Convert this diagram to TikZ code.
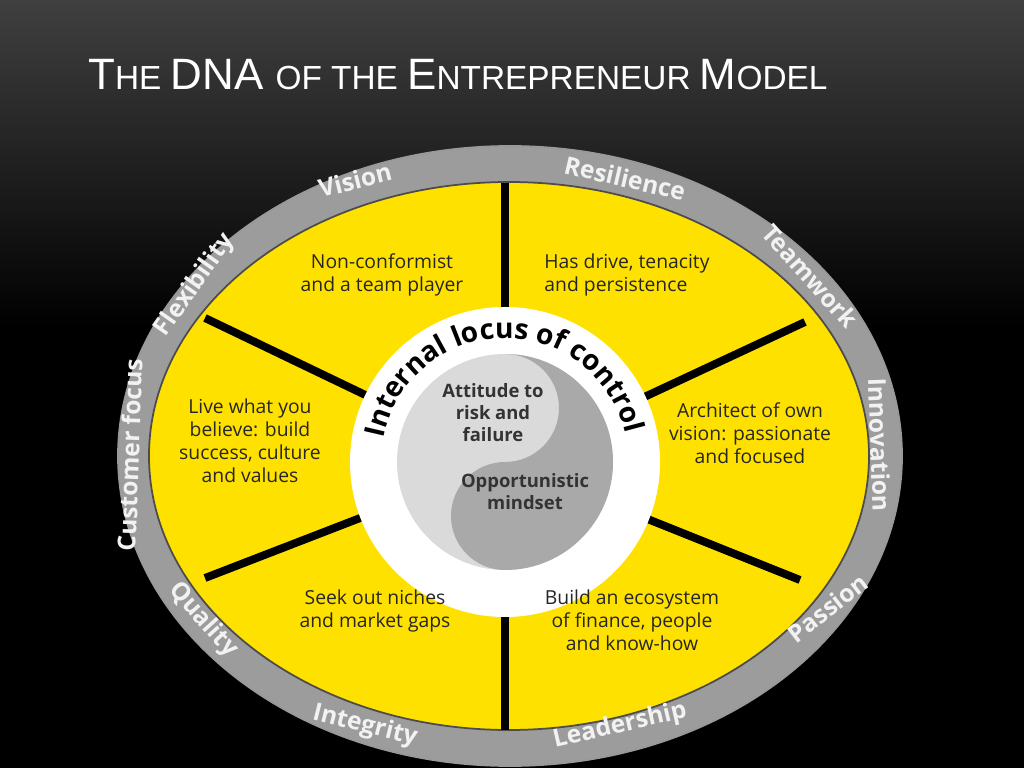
\documentclass[tikz,border=0pt]{standalone}
\usepackage{fontspec}
\setmainfont{Open Sans}
\newfontfamily\titlefont{Liberation Sans}
\usetikzlibrary{decorations.text}
\definecolor{dnayellow}{HTML}{FFE100}
\definecolor{ringgray}{HTML}{9C9C9C}
\definecolor{yinlight}{HTML}{DADADA}
\definecolor{yindark}{HTML}{A9A9A9}
\tikzset{
  sectortext/.style={font=\fontsize{11}{13}\selectfont, align=center, text=black!85},
  ringtext/.style={font=\bfseries\fontsize{14}{16}\selectfont, text=white!95!black},
  coretext/.style={font=\bfseries\fontsize{10.5}{12.5}\selectfont, align=center, text=black!80},
  divider/.style={line width=4.5pt, black}
}
\begin{document}
\begin{tikzpicture}[x=0.02cm,y=0.02cm]
	\useasboundingbox (0,0) rectangle (1024,768);
	\fill[black] (0,0) rectangle (1024,768);
	\shade[top color=black!75, bottom color=black] (0,768) rectangle (1024,440);
	
	% title
	\node[anchor=base west, text=white, font=\titlefont] (title) at (82,678)
	  {\fontsize{25}{30}\selectfont T\fontsize{19}{22}\selectfont HE \fontsize{25}{30}\selectfont DNA \fontsize{19}{22}\selectfont OF THE \fontsize{25}{30}\selectfont E\fontsize{19}{22}\selectfont NTREPRENEUR \fontsize{25}{30}\selectfont M\fontsize{19}{22}\selectfont ODEL};
	
	% ring and sectors
	\fill[ringgray, draw=black!40, line width=1pt] (510,312) ellipse [x radius=392, y radius=310];
	\fill[dnayellow, draw=black!70, line width=1pt] (509,312) ellipse [x radius=360, y radius=274];
	
	\coordinate (c) at (505,306);
	\draw[divider] (505,585) -- (505,38);
	\draw[divider] (c) -- (205,450);
	\draw[divider] (c) -- (805,446);
	\draw[divider] (c) -- (205,190);
	\draw[divider] (c) -- (800,188);
	
	% core
	\fill[white] (c) circle (155);
	\fill[yinlight] (c) circle (108);
	\fill[yindark] (505,414) arc (90:-90:108) arc (-90:-270:54) arc (-90:90:54) -- cycle;
	\path[decorate, decoration={text along path, text align=center,
	  text={|\bfseries\fontsize{16}{18}\selectfont|Internal locus of control}}]
	  (c) ++(170:124) arc (170:12:124);
	
	\node[coretext] (risk) at (493,355) {Attitude to\\risk and\\failure};
	\node[coretext] (mind) at (525,276) {Opportunistic\\mindset};
	
	% sector texts
	\node[sectortext] (nonconf) at (382,493) {Non-conformist\\and a team player};
	\node[sectortext, align=left] (drive) at (627,493) {Has drive, tenacity\\and persistence};
	\node[sectortext] (live) at (250,327) {Live what you\\believe: build\\success, culture\\and values};
	\node[sectortext] (arch) at (750,335) {Architect of own\\vision: passionate\\and focused};
	\node[sectortext] (niches) at (375,157) {Seek out niches\\and market gaps};
	\node[sectortext] (eco) at (632,148) {Build an ecosystem\\of finance, people\\and know-how};
	
	% ring texts
	\node[ringtext, rotate=14] (vision) at (355,588) {Vision};
	\node[ringtext, rotate=-13] (resil) at (625,590) {Resilience};
	\node[ringtext, rotate=-48] (team) at (810,492) {Teamwork};
	\node[ringtext, rotate=-88] (innov) at (880,323) {Innovation};
	\node[ringtext, rotate=38] (passion) at (828,160) {Passion};
	\node[ringtext, rotate=13] (lead) at (620,42) {Leadership};
	\node[ringtext, rotate=-14] (integ) at (365,42) {Integrity};
	\node[ringtext, rotate=-48] (quality) at (203,148) {Quality};
	\node[ringtext, rotate=88] (cust) at (130,313) {Customer focus};
	\node[ringtext, rotate=55] (flex) at (195,483) {Flexibility};
\end{tikzpicture}
\end{document}
